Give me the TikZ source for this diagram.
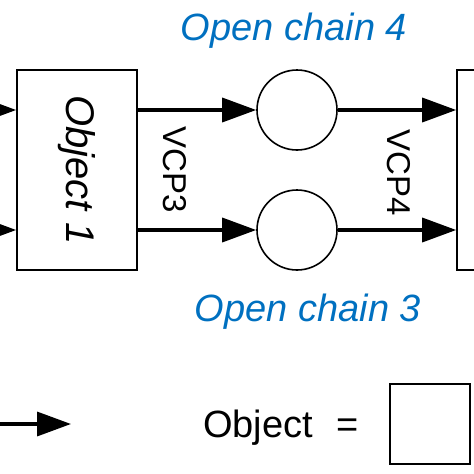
\documentclass[tikz,border=0pt]{standalone}
\usepackage{fontspec}
\setmainfont{Liberation Sans}
\usetikzlibrary{arrows.meta}
\definecolor{chainblue}{RGB}{0,112,192}

\begin{document}
\begin{tikzpicture}[x=1pt, y=-1pt,
        box/.style={draw, line width=1.6pt, minimum width=120pt, minimum height=200pt, inner sep=0pt},
        joint/.style={draw, circle, line width=1.6pt, minimum size=80pt, inner sep=0pt},
        flow/.style={line width=3.5pt, -{Triangle[length=34pt,width=24pt]}},
        chain/.style={text=chainblue, inner sep=0pt, font=\fontsize{38}{40}\selectfont\itshape},
        vcp/.style={rotate=-90, inner sep=0pt, font=\fontsize{33}{36}\selectfont}]
        \useasboundingbox (0,0) rectangle (474,474);
        \clip (0,0) rectangle (474,474);

        % objects and joints
        \node[box] (obj1) at (77,170) {\rotatebox{-90}{\fontsize{40}{42}\selectfont\itshape Object 1}};
        \node[box] (obj2) at (517,170) {};
        \node[joint] (c4) at (297,110) {};
        \node[joint] (c3) at (297,230) {};
        \coordinate (in4) at (-30,110);
        \coordinate (in3) at (-30,230);

        \draw[flow] (in4) -- (obj1.west |- in4);
        \draw[flow] (in3) -- (obj1.west |- in3);
        \draw[flow] (obj1.east |- c4) -- (c4);
        \draw[flow] (obj1.east |- c3) -- (c3);
        \draw[flow] (c4) -- (obj2.west |- c4);
        \draw[flow] (c3) -- (obj2.west |- c3);

        % labels
        \node[vcp] (vcp3) at (175,170) {VCP3};
        \node[vcp] (vcp4) at (399,173) {VCP4};
        \node[chain] (ch4) at (294,31) {Open chain 4};
        \node[chain] (ch3) at (308,312) {Open chain 3};

        % legend
        \coordinate (l0) at (-10,424);
        \coordinate (l1) at (71,424);
        \draw[flow] (l0) -- (l1);
        \node[anchor=base west, inner sep=0pt, font=\fontsize{38}{40}\selectfont] (leg) at (203,437) {Object\hspace{24pt}=};
        \node[draw, line width=1.6pt, minimum size=80pt, inner sep=0pt] (legbox) at (430,424) {};
\end{tikzpicture}
\end{document}
